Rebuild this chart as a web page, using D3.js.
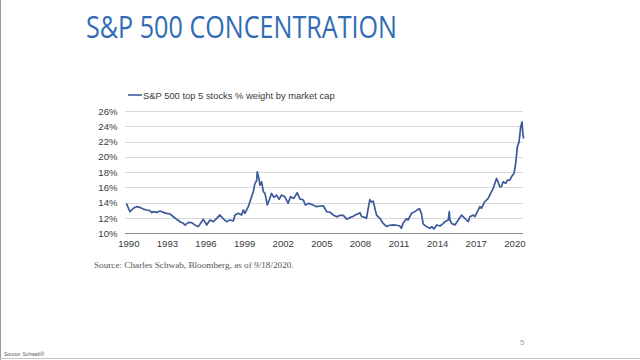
<!DOCTYPE html>
<html>
<head>
<meta charset="utf-8">
<script src="https://cdn.jsdelivr.net/npm/d3@7"></script>
<style>
  html, body { margin: 0; padding: 0; background: #fff; }
  svg { display: block; }
</style>
</head>
<body>
<svg id="chart" width="640" height="360"></svg>
<script>
// ---- Data ----
const title = "S&P 500 CONCENTRATION";
const seriesName = "S&P 500 top 5 stocks % weight by market cap";
const sourceNote = "Source: Charles Schwab, Bloomberg, as of 9/18/2020.";
const yTicks = [10, 12, 14, 16, 18, 20, 22, 24, 26];
const xTicks = [1990, 1993, 1996, 1999, 2002, 2005, 2008, 2011, 2014, 2017, 2020];

const years = [
  1989.85, 1990.13, 1990.39, 1990.65, 1990.91, 1991.17, 1991.43, 1991.69, 1991.82, 1991.94,
  1992.20, 1992.46, 1992.72, 1992.98, 1993.24, 1993.50, 1993.76, 1994.02, 1994.28, 1994.41,
  1994.67, 1994.92, 1995.18, 1995.44, 1995.70, 1995.83, 1996.09, 1996.35, 1996.61, 1996.87,
  1997.12, 1997.38, 1997.64, 1997.90, 1998.16, 1998.29, 1998.55, 1998.80, 1998.93, 1999.06,
  1999.32, 1999.58, 1999.71, 1999.84, 1999.97, 2000.02, 2000.15, 2000.23, 2000.36, 2000.49,
  2000.62, 2000.80, 2000.95, 2001.13, 2001.31, 2001.52, 2001.72, 2001.90, 2002.16, 2002.42,
  2002.60, 2002.86, 2003.12, 2003.33, 2003.60, 2003.76, 2004.02, 2004.35, 2004.62, 2004.90,
  2005.15, 2005.41, 2005.67, 2005.93, 2006.19, 2006.45, 2006.71, 2006.97, 2007.22, 2007.48,
  2007.74, 2007.87, 2008.00, 2008.13, 2008.39, 2008.51, 2008.64, 2008.77, 2008.90, 2009.03,
  2009.16, 2009.29, 2009.55, 2009.80, 2010.06, 2010.32, 2010.58, 2010.84, 2011.10, 2011.22,
  2011.35, 2011.61, 2011.74, 2012.00, 2012.26, 2012.52, 2012.64, 2012.77, 2012.92, 2013.18,
  2013.44, 2013.57, 2013.75, 2013.96, 2014.22, 2014.48, 2014.60, 2014.86, 2014.94, 2014.99,
  2015.12, 2015.38, 2015.64, 2015.90, 2016.02, 2016.28, 2016.41, 2016.54, 2016.80, 2016.93,
  2017.19, 2017.32, 2017.44, 2017.70, 2017.96, 2018.09, 2018.22, 2018.35, 2018.48, 2018.61,
  2018.73, 2018.86, 2018.99, 2019.12, 2019.33, 2019.46, 2019.64, 2019.77, 2019.97, 2020.10,
  2020.23, 2020.36, 2020.49, 2020.59, 2020.67, 2020.72
];
const weights = [
  13.92, 12.82, 13.27, 13.48, 13.39, 13.17, 13.05, 12.96, 12.70, 12.83,
  12.74, 12.92, 12.74, 12.61, 12.52, 12.17, 11.83, 11.52, 11.30, 11.08,
  11.43, 11.39, 11.08, 10.87, 11.52, 11.83, 11.08, 11.74, 11.52, 11.96,
  12.40, 11.90, 11.52, 11.74, 11.61, 12.39, 12.61, 12.39, 13.05, 12.61,
  13.48, 14.79, 15.44, 16.53, 16.88, 18.05, 17.18, 16.31, 16.74, 15.44,
  15.22, 13.70, 14.35, 15.22, 14.70, 15.00, 14.44, 15.00, 14.79, 13.92,
  14.79, 14.57, 15.31, 14.50, 14.35, 13.70, 13.92, 13.70, 13.48, 13.57,
  13.60, 12.83, 12.75, 12.39, 12.15, 12.35, 12.35, 11.85, 12.05, 12.22,
  12.50, 12.55, 12.70, 12.20, 12.09, 11.96, 13.26, 14.40, 14.10, 14.20,
  13.26, 12.39, 11.96, 11.30, 10.90, 11.05, 11.09, 11.05, 10.95, 10.65,
  11.30, 11.90, 11.74, 12.61, 12.83, 13.13, 13.20, 12.61, 11.20, 10.87,
  10.65, 10.87, 10.57, 11.09, 10.96, 11.30, 11.52, 11.74, 12.83, 11.74,
  11.30, 11.09, 11.74, 12.39, 12.17, 11.74, 11.52, 12.17, 12.39, 12.17,
  13.05, 13.48, 13.26, 14.13, 14.57, 15.00, 15.44, 15.87, 16.53, 17.18,
  16.74, 16.09, 16.09, 16.74, 16.53, 16.96, 16.96, 17.39, 17.83, 19.13,
  21.31, 21.96, 23.92, 24.57, 22.83, 22.40
];

// ---- Layout ----
const svg = d3.select("#chart");
const x = d3.scaleLinear().domain([1990, 2020]).range([128.3, 514.4]);
const y = d3.scaleLinear().domain([10, 26]).range([233.3, 111]);
const plotLeft = 125, plotRight = 523;
const sans = "'Liberation Sans', Arial, sans-serif";

// slide frame
svg.append("rect").attr("x", 0).attr("y", 0).attr("width", 640).attr("height", 360).attr("fill", "#fff");
svg.append("line").attr("x1", 0.5).attr("x2", 0.5).attr("y1", 0).attr("y2", 360).attr("stroke", "#9a9a9a");
svg.append("line").attr("x1", 0).attr("x2", 640).attr("y1", 358.5).attr("y2", 358.5).attr("stroke", "#c8c8c8");

// title
svg.append("text")
  .attr("x", 86).attr("y", 37.5)
  .attr("font-family", "'Open Sans', 'Noto Sans', sans-serif")
  .attr("font-size", 31)
  .attr("fill", "#2F6CB5")
  .attr("textLength", 311).attr("lengthAdjust", "spacingAndGlyphs")
  .text(title);

// gridlines
svg.append("g").selectAll("line").data(yTicks.filter(d => d !== 10)).join("line")
  .attr("x1", plotLeft).attr("x2", plotRight)
  .attr("y1", d => Math.round(y(d)) + 0.5).attr("y2", d => Math.round(y(d)) + 0.5)
  .attr("stroke", "#d9d9d9").attr("stroke-width", 1);
svg.append("line")
  .attr("x1", plotLeft).attr("x2", plotRight)
  .attr("y1", Math.round(y(10)) + 0.5).attr("y2", Math.round(y(10)) + 0.5)
  .attr("stroke", "#8c8c8c").attr("stroke-width", 1.2);

// y axis labels
const yAxis = d3.axisLeft(y).tickValues(yTicks).tickFormat(d => d + "%").tickSize(0).tickPadding(0);
const gy = svg.append("g").attr("transform", "translate(117.5,0)").call(yAxis);
gy.select(".domain").remove();
gy.selectAll("text").attr("font-family", sans)
  .attr("font-size", 9.6).attr("fill", "#3a3a3a");

// x axis labels
const xAxis = d3.axisBottom(x).tickValues(xTicks).tickFormat(d3.format("d")).tickSize(0).tickPadding(0);
const gx = svg.append("g").attr("transform", "translate(0,240)").call(xAxis);
gx.select(".domain").remove();
gx.selectAll("text").attr("font-family", sans)
  .attr("font-size", 9.6).attr("fill", "#3a3a3a");

// line
const data = years.map((t, i) => ({ t, v: weights[i] }));
svg.append("path").datum(data)
  .attr("fill", "none").attr("stroke", "#3C5A99").attr("stroke-width", 1.7)
  .attr("stroke-linejoin", "round")
  .attr("d", d3.line().x(d => x(d.t)).y(d => y(d.v)));

// legend
svg.append("line").attr("x1", 128).attr("x2", 142).attr("y1", 95).attr("y2", 95)
  .attr("stroke", "#3C5A99").attr("stroke-width", 1.6);
svg.append("text").attr("x", 143).attr("y", 98.5)
  .attr("font-family", sans)
  .attr("font-size", 9.4).attr("fill", "#3a3a3a")
  .text(seriesName);

// source
svg.append("text").attr("x", 94).attr("y", 268)
  .attr("font-family", "'Liberation Serif', 'DejaVu Serif', serif")
  .attr("font-size", 9.2).attr("fill", "#555")
  .text(sourceNote);

// page number and footer
svg.append("text").attr("x", 520).attr("y", 345)
  .attr("font-family", sans)
  .attr("font-size", 8).attr("fill", "#a0a0a0").text("5");
svg.append("text").attr("x", 4).attr("y", 356)
  .attr("font-family", sans)
  .attr("font-size", 5).attr("fill", "#555").text("Source: Schwab®");
</script>
</body>
</html>
